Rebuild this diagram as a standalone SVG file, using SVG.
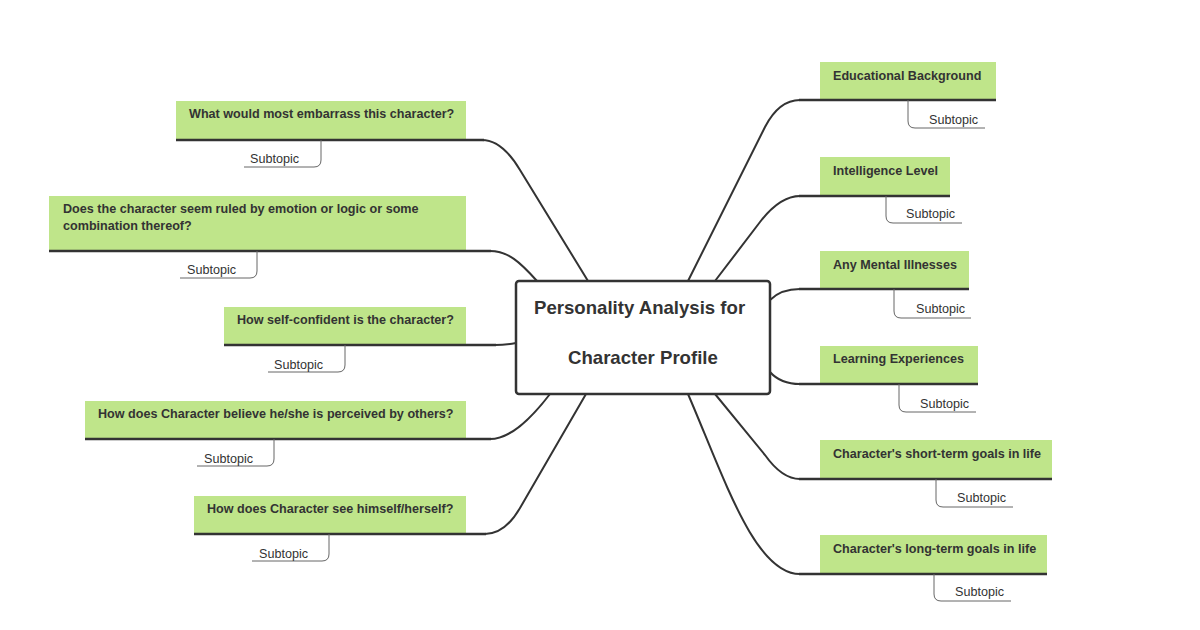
<svg xmlns="http://www.w3.org/2000/svg" width="1200" height="630" viewBox="0 0 1200 630">
<style>
.bg{fill:#ffffff}
.topic{fill:#bfe58a}
.uline{stroke:#333333;stroke-width:2.5;fill:none}
.conn{stroke:#333333;stroke-width:2;fill:none;stroke-linecap:round}
.sub{stroke:#666666;stroke-width:1;fill:none}
.tt{font-family:"Liberation Sans",Arial,sans-serif;font-weight:bold;font-size:12.6px;fill:#333333}
.st{font-family:"Liberation Sans",Arial,sans-serif;font-size:12.6px;fill:#333333}
.ct{font-family:"Liberation Sans",Arial,sans-serif;font-weight:bold;font-size:18.6px;fill:#333333}
</style>
<rect class="bg" x="0" y="0" width="1200" height="630"/>
<g id="connectors">
  <path class="conn" d="M588,281 L520,170 Q502,140 482,140"/>
  <path class="conn" d="M537,281 C520,262 508,251 490,251"/>
  <path class="conn" d="M516,343 Q505,345 495,345"/>
  <path class="conn" d="M550,394 C530,420 510,439 490,439"/>
  <path class="conn" d="M586,394 L520,508 Q505,534 485,534"/>
  <path class="conn" d="M688,281 L765,127 Q779,100 800,100"/>
  <path class="conn" d="M715,281 L760,222 Q780,196 800,196"/>
  <path class="conn" d="M770,300 C778,292 788,289 800,289"/>
  <path class="conn" d="M770,372 C778,381 788,384 800,384"/>
  <path class="conn" d="M715,394 L765,455 Q782,479 800,479"/>
  <path class="conn" d="M688,394 C725,480 755,574 800,574"/>
</g>
<g id="center">
  <rect x="516" y="281" width="254" height="113" rx="3" fill="#ffffff" stroke="#333333" stroke-width="2.5"/>
  <text class="ct" x="534" y="314">Personality Analysis for</text>
  <text class="ct" x="568" y="364">Character Profile</text>
</g>
<g id="left1">
  <rect class="topic" x="176" y="101" width="290" height="39"/>
  <path class="uline" d="M176,140 H484"/>
  <text class="tt" x="189" y="118">What would most embarrass this character?</text>
  <path class="sub" d="M321,140 V160 Q321,167 314,167 H244"/>
  <text class="st" x="250" y="163">Subtopic</text>
</g>
<g id="left2">
  <rect class="topic" x="49" y="196" width="417" height="54"/>
  <path class="uline" d="M49,251 H491"/>
  <text class="tt" x="63" y="213">Does the character seem ruled by emotion or logic or some</text>
  <text class="tt" x="63" y="230">combination thereof?</text>
  <path class="sub" d="M257,251 V271 Q257,278 250,278 H180"/>
  <text class="st" x="187" y="274">Subtopic</text>
</g>
<g id="left3">
  <rect class="topic" x="224" y="307" width="242" height="38"/>
  <path class="uline" d="M224,345 H496"/>
  <text class="tt" x="237" y="324">How self-confident is the character?</text>
  <path class="sub" d="M345,345 V365 Q345,372 338,372 H268"/>
  <text class="st" x="274" y="369">Subtopic</text>
</g>
<g id="left4">
  <rect class="topic" x="85" y="401" width="381" height="38"/>
  <path class="uline" d="M85,439 H491"/>
  <text class="tt" x="98" y="418">How does Character believe he/she is perceived by others?</text>
  <path class="sub" d="M274,439 V459 Q274,466 267,466 H197"/>
  <text class="st" x="204" y="463">Subtopic</text>
</g>
<g id="left5">
  <rect class="topic" x="194" y="496" width="272" height="38"/>
  <path class="uline" d="M194,534 H486"/>
  <text class="tt" x="207" y="513">How does Character see himself/herself?</text>
  <path class="sub" d="M329,534 V554 Q329,561 322,561 H252"/>
  <text class="st" x="259" y="558">Subtopic</text>
</g>
<g id="right1">
  <rect class="topic" x="820" y="62" width="176" height="38"/>
  <path class="uline" d="M799,100 H996"/>
  <text class="tt" x="833" y="80">Educational Background</text>
  <path class="sub" d="M908,100 V121 Q908,128 915,128 H985"/>
  <text class="st" x="929" y="124">Subtopic</text>
</g>
<g id="right2">
  <rect class="topic" x="820" y="157" width="130" height="38"/>
  <path class="uline" d="M799,196 H950"/>
  <text class="tt" x="833" y="175">Intelligence Level</text>
  <path class="sub" d="M886,196 V216 Q886,223 893,223 H962"/>
  <text class="st" x="906" y="218">Subtopic</text>
</g>
<g id="right3">
  <rect class="topic" x="820" y="251" width="149" height="38"/>
  <path class="uline" d="M799,289 H969"/>
  <text class="tt" x="833" y="269">Any Mental Illnesses</text>
  <path class="sub" d="M894,289 V311 Q894,318 901,318 H971"/>
  <text class="st" x="916" y="313">Subtopic</text>
</g>
<g id="right4">
  <rect class="topic" x="820" y="346" width="158" height="38"/>
  <path class="uline" d="M799,384 H978"/>
  <text class="tt" x="833" y="363">Learning Experiences</text>
  <path class="sub" d="M899,384 V405 Q899,412 906,412 H976"/>
  <text class="st" x="920" y="408">Subtopic</text>
</g>
<g id="right5">
  <rect class="topic" x="820" y="440" width="232" height="39"/>
  <path class="uline" d="M799,479 H1052"/>
  <text class="tt" x="833" y="458">Character's short-term goals in life</text>
  <path class="sub" d="M936,479 V500 Q936,507 943,507 H1013"/>
  <text class="st" x="957" y="502">Subtopic</text>
</g>
<g id="right6">
  <rect class="topic" x="820" y="535" width="227" height="39"/>
  <path class="uline" d="M799,574 H1047"/>
  <text class="tt" x="833" y="553">Character's long-term goals in life</text>
  <path class="sub" d="M934,574 V594 Q934,601 941,601 H1011"/>
  <text class="st" x="955" y="596">Subtopic</text>
</g>
</svg>
